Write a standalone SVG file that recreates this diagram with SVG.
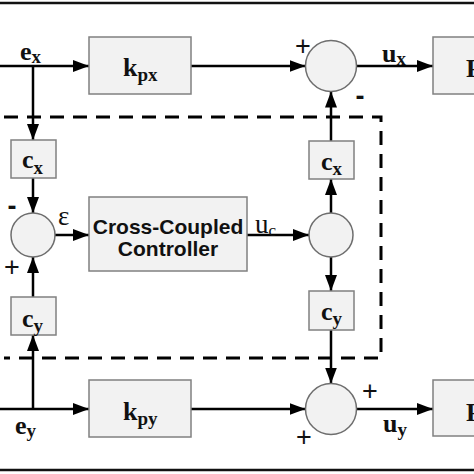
<svg xmlns="http://www.w3.org/2000/svg" width="474" height="474" viewBox="0 0 474 474">
<defs>
<marker id="ah" markerUnits="userSpaceOnUse" markerWidth="16" markerHeight="12" refX="16" refY="6" orient="auto">
<path d="M0,0 L16,6 L0,12 z" fill="#000"/>
</marker>
<style>
.box{fill:#f2f2f2;stroke:#808080;stroke-width:1.5}
.sum{fill:#f2f2f2;stroke:#6e6e6e;stroke-width:1.5}
.ar{stroke:#000;stroke-width:2.5;fill:none;marker-end:url(#ah)}
.sym{font-family:"Liberation Serif","Times New Roman",serif;font-weight:bold;font-size:26px;fill:#111}
.sub{font-size:19px}
.sign{font-family:"Liberation Sans",Arial,sans-serif;font-size:27px;fill:#111;text-anchor:middle}
.ccc{font-family:"Liberation Sans",Arial,sans-serif;font-weight:bold;font-size:21px;fill:#111;text-anchor:middle}
.lbl{font-family:"Liberation Serif","Times New Roman",serif;font-size:27px;fill:#111}
</style>
</defs>
<rect width="474" height="474" fill="#fff"/>
<line x1="0" y1="3" x2="474" y2="3" stroke="#111" stroke-width="2.5"/>
<line x1="0" y1="470" x2="474" y2="470" stroke="#111" stroke-width="2.5"/>

<path d="M4,117 H381 V358 H4" fill="none" stroke="#000" stroke-width="3" stroke-dasharray="14 9"/>

<g id="connectors">
<line class="ar" x1="0" y1="66" x2="89" y2="66"/>
<line class="ar" x1="33" y1="66" x2="33" y2="140"/>
<line class="ar" x1="33" y1="178" x2="33" y2="213"/>
<line class="ar" x1="191" y1="66" x2="305.5" y2="66"/>
<line class="ar" x1="356.5" y1="66" x2="433" y2="66"/>
<line class="ar" x1="331" y1="141" x2="331" y2="91.5"/>
<line class="ar" x1="331" y1="213" x2="331" y2="179"/>
<line class="ar" x1="55" y1="235" x2="89" y2="235"/>
<line class="ar" x1="247" y1="235" x2="309" y2="235"/>
<line class="ar" x1="331" y1="257" x2="331" y2="291"/>
<line class="ar" x1="331" y1="330" x2="331" y2="383.5"/>
<line class="ar" x1="33" y1="297" x2="33" y2="257"/>
<line class="ar" x1="33" y1="409" x2="33" y2="335"/>
<line class="ar" x1="0" y1="409" x2="89" y2="409"/>
<line class="ar" x1="191" y1="409" x2="305.5" y2="409"/>
<line class="ar" x1="356.5" y1="409" x2="433" y2="409"/>
</g>

<g id="kpx"><rect class="box" x="89" y="37" width="102" height="57"/><text class="sym" x="123" y="76">k<tspan class="sub" dy="5">px</tspan></text></g>
<g id="kpy"><rect class="box" x="89" y="380" width="102" height="57"/><text class="sym" x="123" y="420">k<tspan class="sub" dy="5">py</tspan></text></g>
<g id="cx-left"><rect class="box" x="11" y="140" width="45" height="38"/><text class="sym" x="22" y="168">c<tspan class="sub" dy="6">x</tspan></text></g>
<g id="cy-left"><rect class="box" x="11" y="297" width="45" height="38"/><text class="sym" x="22" y="327">c<tspan class="sub" dy="5">y</tspan></text></g>
<g id="cx-right"><rect class="box" x="309" y="141" width="45" height="38"/><text class="sym" x="321" y="170">c<tspan class="sub" dy="5">x</tspan></text></g>
<g id="cy-right"><rect class="box" x="309" y="291" width="45" height="39"/><text class="sym" x="321" y="320">c<tspan class="sub" dy="5">y</tspan></text></g>
<g id="ccc"><rect class="box" x="89" y="197" width="158" height="74"/><text class="ccc" x="168" y="234">Cross-Coupled</text><text class="ccc" x="168" y="256">Controller</text></g>
<g id="px"><rect class="box" x="433" y="37" width="50" height="57"/><text class="sym" x="466" y="77">P</text></g>
<g id="py"><rect class="box" x="433" y="380" width="50" height="56"/><text class="sym" x="466" y="421">P</text></g>

<g id="sum-top"><circle class="sum" cx="331" cy="66" r="25.5"/></g>
<g id="sum-left"><circle class="sum" cx="33" cy="235" r="22"/></g>
<g id="sum-mid"><circle class="sum" cx="331" cy="235" r="22"/></g>
<g id="sum-bottom"><circle class="sum" cx="331" cy="409" r="25.5"/></g>

<g id="labels">
<text class="sym" x="20" y="60">e<tspan class="sub" dy="3">x</tspan></text>
<text class="sym" x="15" y="434">e<tspan class="sub" dy="3">y</tspan></text>
<text class="sym" x="382" y="62">u<tspan class="sub" dy="3">x</tspan></text>
<text class="sym" x="383" y="432">u<tspan class="sub" dy="4">y</tspan></text>
<text class="lbl" x="58" y="225">ε</text>
<text class="lbl" x="255" y="233">u<tspan font-size="17" dy="3">c</tspan></text>
<text class="sign" x="303" y="55">+</text>
<text class="sign" x="360" y="105" font-weight="bold">-</text>
<text class="sign" x="12" y="215" font-weight="bold">-</text>
<text class="sign" x="12" y="276">+</text>
<text class="sign" x="370" y="400">+</text>
<text class="sign" x="304" y="446">+</text>
</g>
</svg>
